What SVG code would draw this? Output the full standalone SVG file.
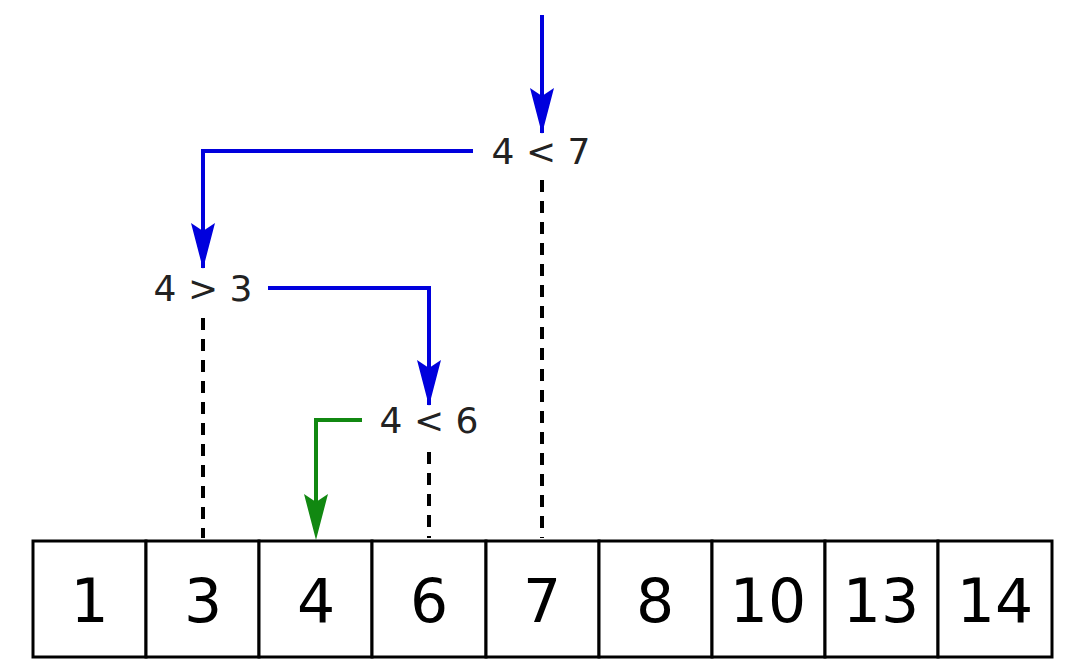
<svg xmlns="http://www.w3.org/2000/svg" width="1069" height="671" viewBox="0 0 1069 671">
<style>
.cell{fill:#fff;stroke:#000;stroke-width:3}
.num{font-family:"DejaVu Sans",sans-serif;font-size:60px;text-anchor:middle;fill:#000}
.lbl{font-family:"DejaVu Sans",sans-serif;font-size:36px;text-anchor:middle;fill:#222}
.b{fill:none;stroke:#0000dd;stroke-width:4}
.g{fill:none;stroke:#118811;stroke-width:4}
.d{stroke:#000;stroke-width:4;stroke-dasharray:12,9}
.hb{fill:#0000dd}
.hg{fill:#118811}
</style>
<g id="connectors">
<line class="d" x1="542" y1="180" x2="542" y2="538"/>
<line class="d" x1="203" y1="318" x2="203" y2="538"/>
<line class="d" x1="429" y1="452" x2="429" y2="538"/>
<path class="b" d="M542,15 V133"/>
<path class="hb" d="M530,88 L542,96 L554,88 L542,134 Z"/>
<path class="b" d="M473,151 H203 V268"/>
<path class="hb" d="M191,223 L203,231 L215,223 L203,269 Z"/>
<path class="b" d="M268,288 H429 V405"/>
<path class="hb" d="M417,360 L429,368 L441,360 L429,406 Z"/>
<path class="g" d="M362,420 H316 V530"/>
<path class="hg" d="M304,494 L316,502 L328,494 L316,540 Z"/>
</g>
<g id="labels">
<text class="lbl" x="541" y="164">4 &lt; 7</text>
<text class="lbl" x="203" y="301">4 &gt; 3</text>
<text class="lbl" x="429" y="433">4 &lt; 6</text>
</g>
<g id="array">
<rect class="cell" x="33" y="541" width="113" height="116"/>
<rect class="cell" x="146" y="541" width="113" height="116"/>
<rect class="cell" x="259" y="541" width="113" height="116"/>
<rect class="cell" x="372" y="541" width="114" height="116"/>
<rect class="cell" x="486" y="541" width="113" height="116"/>
<rect class="cell" x="599" y="541" width="113" height="116"/>
<rect class="cell" x="712" y="541" width="113" height="116"/>
<rect class="cell" x="825" y="541" width="113" height="116"/>
<rect class="cell" x="938" y="541" width="114" height="116"/>
<text class="num" x="89.5" y="622">1</text>
<text class="num" x="203" y="622">3</text>
<text class="num" x="316" y="622">4</text>
<text class="num" x="429" y="622">6</text>
<text class="num" x="542" y="622">7</text>
<text class="num" x="655" y="622">8</text>
<text class="num" x="768" y="622">10</text>
<text class="num" x="881" y="622">13</text>
<text class="num" x="995" y="622">14</text>
</g>
</svg>
